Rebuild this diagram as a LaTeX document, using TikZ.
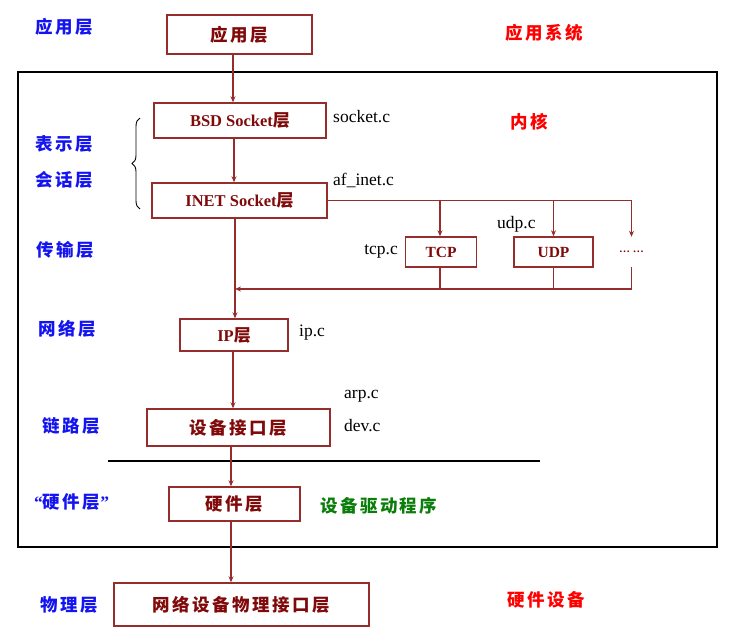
\documentclass[tikz,border=0pt]{standalone}
\usepackage{fontspec}
\setmainfont{Liberation Serif}
\newfontfamily\cjk{Noto Sans CJK SC}[LetterSpace=14]
\newfontfamily\cjktight{Noto Sans CJK SC}
\usetikzlibrary{arrows.meta,decorations.pathreplacing,calc}
\definecolor{boxred}{RGB}{150,45,45}
\definecolor{txtred}{RGB}{128,10,10}
\definecolor{lblue}{RGB}{20,20,240}
\definecolor{lred}{RGB}{255,0,0}
\definecolor{lgreen}{RGB}{10,125,10}
\newcommand\cjkbig{\fontsize{17.5}{20}\selectfont\cjk\bfseries}
\newcommand\latbf{\fontsize{16.5}{20}\selectfont\rmfamily\bfseries}
\newcommand\ceng{{\fontsize{17}{20}\selectfont\cjktight\bfseries 层}}
\begin{document}
\begin{tikzpicture}[x=1pt,y=-1pt,
  box/.style={draw=boxred, line width=1.4pt, inner sep=0pt, text=txtred, font=\cjkbig},
  arr/.style={draw=boxred, line width=1.2pt, -{Stealth[length=6pt,width=5pt]}},
  ln/.style={draw=boxred, line width=1.2pt},
  lab/.style={anchor=west, inner sep=0pt, font=\cjkbig},
  file/.style={anchor=west, inner sep=0pt, font=\fontsize{17.5}{20}\selectfont},
]
\useasboundingbox (0,0) rectangle (734,634);
% kernel frame
\node[draw=black, line width=1.3pt, minimum width=699, minimum height=475, inner sep=0pt] (kernel) at (367.5,309.5) {};
\coordinate (sepA) at (108,461);
\coordinate (sepB) at (540,461);
\draw[black, line width=1.1pt] (sepA) -- (sepB);

% boxes
\node[box, minimum width=145, minimum height=39] (app) at (239.5,34.5) {应用层};
\node[box, minimum width=172, minimum height=35] (bsd) at (240,120.5) {{\latbf BSD Socket}\ceng};
\node[box, minimum width=175, minimum height=35] (inet) at (239.5,200.5) {{\latbf INET Socket}\ceng};
\node[box, minimum width=71, minimum height=30, font=\fontsize{15.5}{18}\selectfont\rmfamily\bfseries] (tcp) at (441,252) {TCP};
\node[box, minimum width=79, minimum height=30, font=\fontsize{15.5}{18}\selectfont\rmfamily\bfseries] (udp) at (553.5,252) {UDP};
\node[inner sep=0pt, minimum width=10, minimum height=30, text=txtred, font=\fontsize{11}{14}\selectfont\rmfamily\bfseries] (more) at (631.5,252) {…\hspace{3pt}…};
\node[box, minimum width=108, minimum height=32] (ip) at (234,335) {{\latbf IP}\ceng};
\node[box, minimum width=183, minimum height=37] (dev) at (238.5,427.5) {设备接口层};
\node[box, minimum width=131, minimum height=34] (hw) at (234.5,504) {硬件层};
\node[box, minimum width=255, minimum height=43] (phy) at (241.5,604.5) {网络设备物理接口层};

% vertical arrows
\draw[arr] ([xshift=-6.5]app.south) -- ([xshift=-6.5]app.south |- bsd.north);
\draw[arr] ([xshift=-6]bsd.south) -- ([xshift=-6]bsd.south |- inet.north);
\draw[arr] ([xshift=-4.5]inet.south) -- ([xshift=-4.5]inet.south |- ip.north);
\draw[arr] ([xshift=-1]ip.south) -- ([xshift=-1]ip.south |- dev.north);
\draw[arr] ([xshift=-7.5]dev.south) -- ([xshift=-7.5]dev.south |- hw.north);
\draw[arr] ([xshift=-3.5]hw.south) -- ([xshift=-3.5]hw.south |- phy.north);

% fan out to transport
\draw[ln] (inet.east) -- (more.north |- inet.east);
\draw[arr] ([xshift=-1]tcp.north |- inet.east) -- ([xshift=-1]tcp.north);
\draw[arr] (udp.north |- inet.east) -- (udp.north);
\draw[arr] (more.north |- inet.east) -- (more.north);
% return to IP
\coordinate (ret) at (235,289);
\draw[ln] ([xshift=-1]tcp.south) -- ([xshift=-1]tcp.south |- ret);
\draw[ln] (udp.south) -- (udp.south |- ret);
\draw[arr] (more.south) |- (ret);

% brace
\coordinate (brA) at (140,209);
\coordinate (brB) at (140,118);
\draw[black, line width=0.9pt, decorate, decoration={brace, amplitude=8pt}] (brA) -- (brB);

% left layer labels
\node[lab, text=lblue] (l1) at (35,27) {应用层};
\node[lab, text=lblue] (l2) at (35,144) {表示层};
\node[lab, text=lblue] (l3) at (35,180) {会话层};
\node[lab, text=lblue] (l4) at (36,250) {传输层};
\node[lab, text=lblue] (l5) at (38,329) {网络层};
\node[lab, text=lblue] (l6) at (42,426) {链路层};
\node[lab, text=lblue] (l7) at (34,502) {{\fontsize{17.5}{20}\selectfont\rmfamily\bfseries “}硬件层{\fontsize{17.5}{20}\selectfont\rmfamily\bfseries ”}};
\node[lab, text=lblue] (l8) at (40,605) {物理层};

% right labels
\node[lab, text=lred] (r1) at (505,33) {应用系统};
\node[lab, text=lred] (r2) at (510,122) {内核};
\node[lab, text=lgreen] (r3) at (320,506) {设备驱动程序};
\node[lab, text=lred] (r4) at (507,600) {硬件设备};

% file labels
\node[file] (f1) at (333,117) {socket.c};
\node[file] (f2) at (333,180) {af\_inet.c};
\node[file] (f3) at (497,224) {udp.c};
\node[file, anchor=east] (f4) at (398,251) {tcp.c};
\node[file] (f5) at (299,333) {ip.c};
\node[file] (f6) at (344,396) {arp.c};
\node[file] (f7) at (344,426) {dev.c};
\end{tikzpicture}
\end{document}
